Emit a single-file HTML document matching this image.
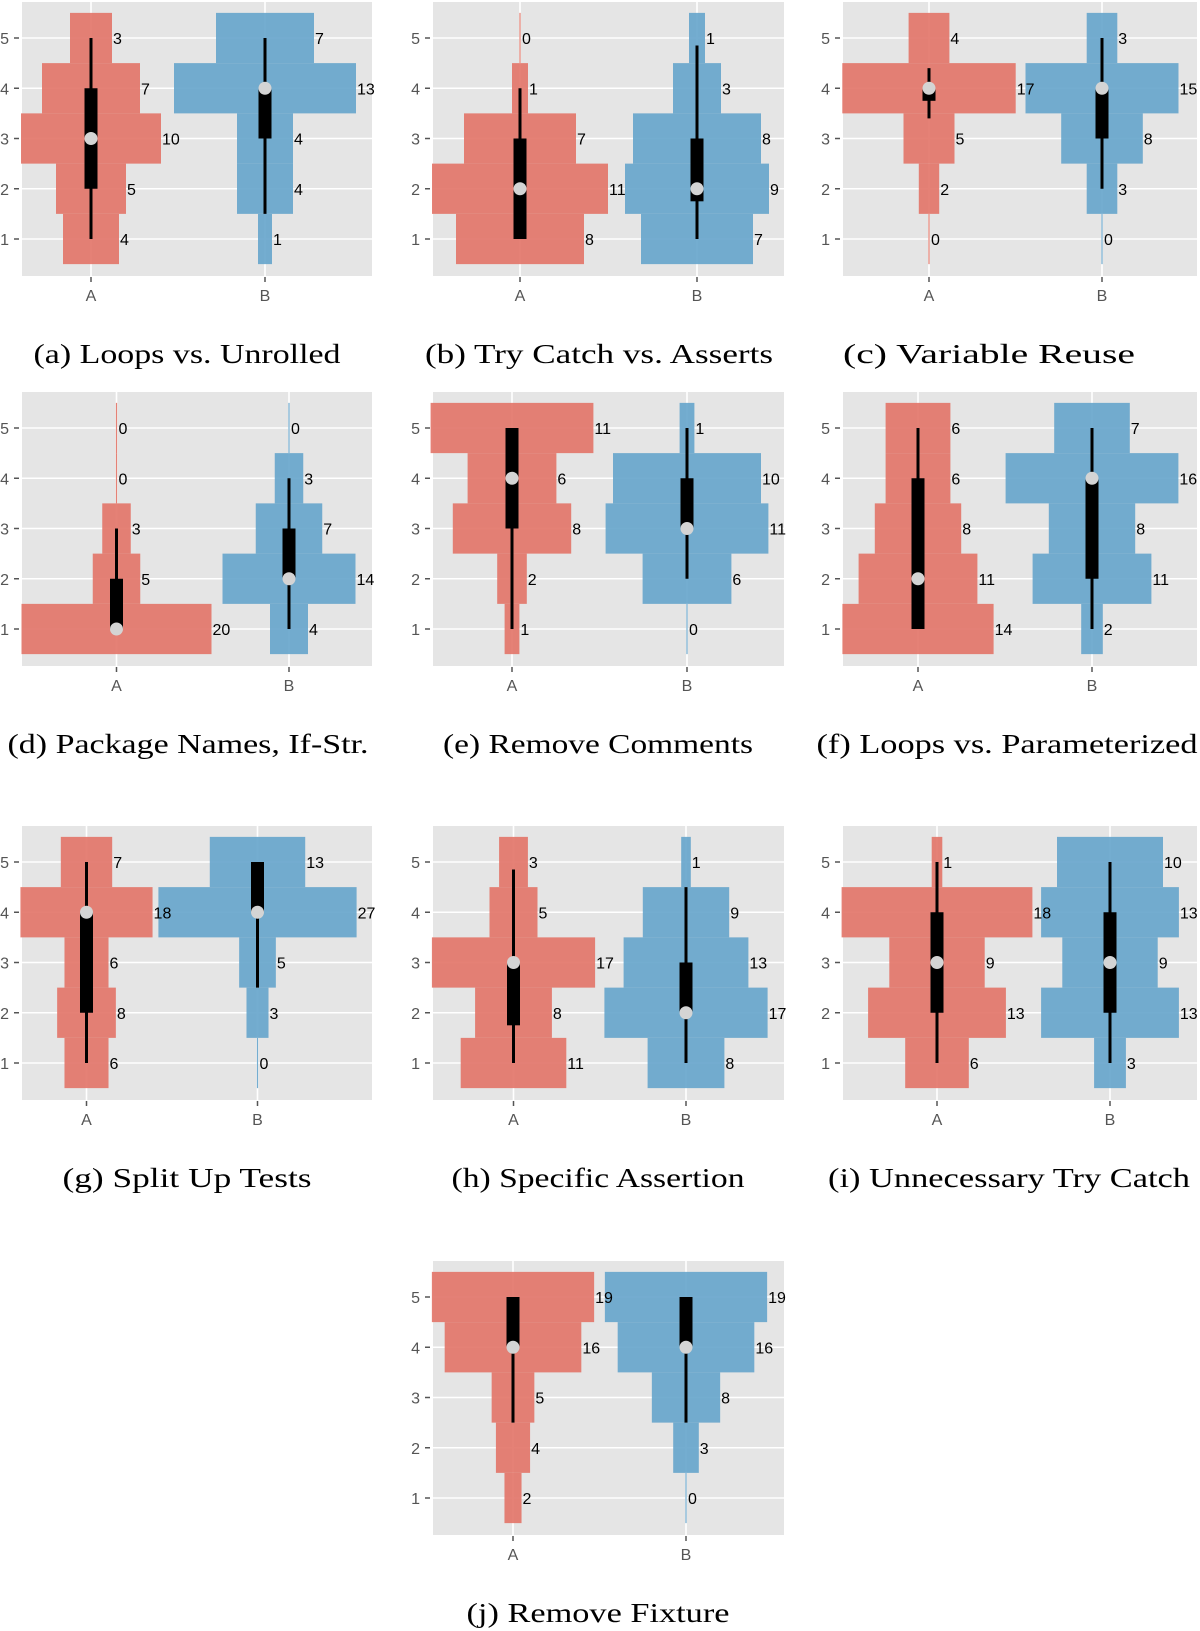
<!DOCTYPE html>
<html>
<head>
<meta charset="utf-8">
<style>
  html,body{margin:0;padding:0;background:#fff;}
  svg{display:block;}
  .tick{font-family:"Liberation Sans","DejaVu Sans",sans-serif;font-size:16px;fill:#555;}
  .cnt{font-family:"Liberation Sans","DejaVu Sans",sans-serif;font-size:16px;fill:#000;}
  .cap{font-family:"Liberation Serif","DejaVu Serif",serif;font-size:27px;fill:#000;}
</style>
</head>
<body>
<svg id="fig" xmlns="http://www.w3.org/2000/svg" width="1200" height="1631" viewBox="0 0 1200 1631"></svg>
<script>
// ---- data ----
const panelIds = ["a","b","c","d","e","f","g","h","i","j"];
const captions = ["(a) Loops vs. Unrolled","(b) Try Catch vs. Asserts","(c) Variable Reuse","(d) Package Names, If-Str.","(e) Remove Comments","(f) Loops vs. Parameterized","(g) Split Up Tests","(h) Specific Assertion","(i) Unnecessary Try Catch","(j) Remove Fixture"];
const levels = [1,2,3,4,5];
const groupLabels = ["A","B"];
// counts for levels 1..5
const countsA = [[4,5,10,7,3],[8,11,7,1,0],[0,2,5,17,4],[20,5,3,0,0],[1,2,8,6,11],[14,11,8,6,6],[6,8,6,18,7],[11,8,17,5,3],[6,13,9,18,1],[2,4,5,16,19]];
const countsB = [[1,4,4,13,7],[7,9,8,3,1],[0,3,8,15,3],[4,14,7,3,0],[0,6,11,10,1],[2,11,8,16,7],[0,3,5,27,13],[8,17,13,9,1],[3,13,9,13,10],[0,3,8,16,19]];
// box stats [lowWhisker, q1, median, q3, highWhisker]
const boxA = [[1,2,3,4,5],[1,1,2,3,4],[3.4,3.75,4,4,4.4],[1,1,1,2,3],[1,3,4,5,5],[1,1,2,4,5],[1,2,4,4,5],[1,1.75,3,3,4.85],[1,2,3,4,5],[2.5,4,4,5,5]];
const boxB = [[1.5,3,4,4,5],[1,1.75,2,3,4.85],[2,3,4,4,5],[1,2,2,3,4],[2,3,3,4,5],[1,2,4,4,5],[2.5,4,4,5,5],[1,2,2,3,4.5],[1,2,3,4,5],[2.5,4,4,5,5]];

// ---- layout (pixels) ----
const bgX0 = [22,433,843,22,433,843,22,433,843,433];
const bgX1 = [372,784,1197,372,784,1197,372,784,1197,784];
const rowTop = [2,2,2,392,392,392,826,826,826,1261];
const xA = [91,520,929,116.5,512,918,86.5,513.5,937,513];
const xB = [265,697,1102,289,687,1092,257.5,686,1110,686];
const pxPerCount = [7.0,8.0,5.1,4.75,7.4,5.4,3.67,4.8,5.3,4.27];
const capCenter = [187,599,989,188,598,1007,187,598,1009,598];
const capWidth = [307,348,292,361,310,381,249,293,362,263];

const NS = "http://www.w3.org/2000/svg";
const svg = document.getElementById("fig");
function mk(tag, attrs, parent){
  const e = document.createElementNS(NS, tag);
  for (const k in attrs) e.setAttribute(k, attrs[k]);
  parent.appendChild(e);
  return e;
}
const BG_H = 274, UNIT = 50.25;
function yPos(p, v){ return rowTop[p] + 36 + (5 - v) * UNIT; }
const fills = ["#e3766a","#68a6cc"];

for (let p = 0; p < panelIds.length; p++){
  const g = mk("g", {}, svg);
  
  
  const top = rowTop[p], x0 = bgX0[p], x1 = bgX1[p];
  const bg = mk("rect", {x:x0, y:top, width:x1-x0, height:BG_H, fill:"#e5e5e5"}, g);
  
  
  for (const v of levels){
    const y = yPos(p, v);
    const gl = mk("line", {x1:x0, x2:x1, y1:y, y2:y, stroke:"#fff", "stroke-width":1.6}, g);
    
    
    const tk = mk("line", {x1:x0-8, x2:x0-3, y1:y, y2:y, stroke:"#555", "stroke-width":1.5}, g);
    
    
    const tl = mk("text", {x:x0-13, y:y+6, "text-anchor":"end", class:"tick"}, g);
    tl.textContent = String(v);
    
    
  }
  const centers = [xA[p], xB[p]];
  for (let k = 0; k < 2; k++){
    const cx = centers[k];
    const vl = mk("line", {x1:cx, x2:cx, y1:top, y2:top+BG_H, stroke:"#fff", "stroke-width":1.6}, g);
    
    
    const xt = mk("line", {x1:cx, x2:cx, y1:top+BG_H+1, y2:top+BG_H+6, stroke:"#555", "stroke-width":1.5}, g);
    
    
    const xl = mk("text", {x:cx, y:top+BG_H+25, "text-anchor":"middle", class:"tick"}, g);
    xl.textContent = groupLabels[k];
    
    
  }
  for (let k = 0; k < 2; k++){
    const cx = centers[k];
    const counts = k === 0 ? countsA[p] : countsB[p];
    const box = k === 0 ? boxA[p] : boxB[p];
    const gg = mk("g", {}, g);
    
    
    for (let i = 0; i < levels.length; i++){
      const c = counts[i];
      const half = c * pxPerCount[p];
      const yt = yPos(p, levels[i] + 0.5), yb = yPos(p, levels[i] - 0.5);
      const w = half > 0 ? half*2 : 1.2;
      const r = mk("rect", {x:cx - w/2, y:yt, width:w, height:yb-yt, fill:fills[k], "fill-opacity":0.92}, gg);
      
      
    }
    const wh = mk("line", {x1:cx, x2:cx, y1:yPos(p, box[4]), y2:yPos(p, box[0]), stroke:"#000", "stroke-width":3}, gg);
    
    
    const bx = mk("rect", {x:cx-6.5, y:yPos(p, box[3]), width:13, height:Math.max(yPos(p, box[1]) - yPos(p, box[3]), 0), fill:"#000"}, gg);
    
    
    const md = mk("circle", {cx:cx, cy:yPos(p, box[2]), r:6.5, fill:"#d4d4d4"}, gg);
    
    
  }
  const lg = mk("g", {}, g);
  
  
  for (let k = 0; k < 2; k++){
    const cx = centers[k];
    const counts = k === 0 ? countsA[p] : countsB[p];
    for (let i = 0; i < levels.length; i++){
      const c = counts[i];
      const half = c * pxPerCount[p];
      const t = mk("text", {x:cx + (half > 0 ? half + 1 : 2), y:yPos(p, levels[i]) + 6, class:"cnt"}, lg);
      t.textContent = String(c);
      
      
    }
  }
  const cap = mk("text", {x:capCenter[p], y:top+361, "text-anchor":"middle", class:"cap", textLength:capWidth[p], lengthAdjust:"spacingAndGlyphs"}, g);
  cap.textContent = captions[p];
  
  
}
</script>
</body>
</html>
